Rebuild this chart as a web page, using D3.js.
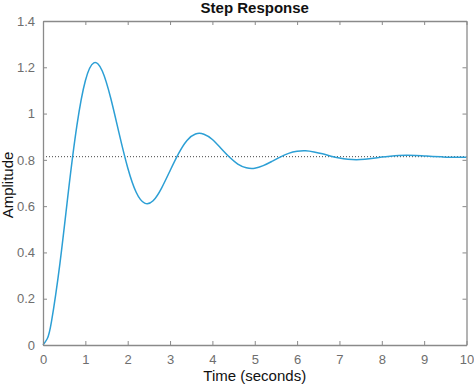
<!DOCTYPE html>
<html>
<head>
<meta charset="utf-8">
<script src="https://cdn.jsdelivr.net/npm/d3@7"></script>
<style>
  html, body { margin: 0; padding: 0; background: #fff; }
  svg { display: block; }
</style>
</head>
<body>
<svg id="chart" width="474" height="388"></svg>
<script>
// Data
const timeValues = [0, 0.1, 0.2, 0.4, 0.6, 0.8, 1.0, 1.2, 1.4, 1.6, 1.8, 2.0, 2.2, 2.4, 2.6, 2.8, 3.0,
  3.2, 3.4, 3.6, 3.8, 4.0, 4.2, 4.4, 4.6, 4.8, 5.0, 5.2, 5.4, 5.6, 5.8, 6.0, 6.2, 6.4, 6.6, 6.8,
  7.0, 7.2, 7.4, 7.6, 7.8, 8.0, 8.2, 8.4, 8.6, 8.8, 9.0, 9.2, 9.4, 9.6, 9.8, 10.0];
const amplitudeValues = [0, 0.027, 0.101, 0.353, 0.664, 0.948, 1.142, 1.219, 1.184, 1.066, 0.912,
  0.766, 0.660, 0.613, 0.623, 0.678, 0.753, 0.827, 0.884, 0.912, 0.911, 0.888, 0.850, 0.812,
  0.782, 0.766, 0.764, 0.775, 0.793, 0.812, 0.828, 0.837, 0.839, 0.834, 0.826, 0.816, 0.808,
  0.803, 0.801, 0.803, 0.807, 0.812, 0.816, 0.819, 0.820, 0.819, 0.817, 0.815, 0.813, 0.811,
  0.811, 0.811];
const steadyState = 0.8137;
const xTicks = [0, 1, 2, 3, 4, 5, 6, 7, 8, 9, 10];
const yTicks = [0, 0.2, 0.4, 0.6, 0.8, 1, 1.2, 1.4];
const titleText = "Step Response";
const xLabelText = "Time (seconds)";
const yLabelText = "Amplitude";

const W = 474, H = 388;
const margin = { left: 43, right: 7.5, top: 21, bottom: 43 };
const svg = d3.select("#chart");
const x = d3.scaleLinear().domain([0, 10]).range([margin.left, W - margin.right]);
const y = d3.scaleLinear().domain([0, 1.4]).range([H - margin.bottom, margin.top]);

const axisColor = "#8a8a8a";
const tickLabelColor = "#6e6e6e";
const font = "'Liberation Sans', Arial, Helvetica, sans-serif";
const tickLen = 4;

// Steady-state dotted line
svg.append("line")
  .attr("x1", x(0)).attr("x2", x(10))
  .attr("y1", y(steadyState)).attr("y2", y(steadyState))
  .attr("stroke", "#444").attr("stroke-width", 1)
  .attr("stroke-dasharray", "1,2");

// Response curve
const pts = timeValues.map((t, i) => [t, amplitudeValues[i]]);
svg.append("path")
  .datum(pts)
  .attr("fill", "none")
  .attr("stroke", "#2c9fd5")
  .attr("stroke-width", 1.5)
  .attr("d", d3.line().x(d => x(d[0])).y(d => y(d[1])).curve(d3.curveNatural));

// Axes (ticks inward)
const fmt = d => String(d);
const axBottom = svg.append("g").attr("transform", `translate(0,${y(0)})`)
  .call(d3.axisBottom(x).tickValues(xTicks).tickFormat(fmt).tickSizeInner(-tickLen).tickSizeOuter(0).tickPadding(10));
const axLeft = svg.append("g").attr("transform", `translate(${x(0)},0)`)
  .call(d3.axisLeft(y).tickValues(yTicks).tickFormat(fmt).tickSizeInner(-tickLen).tickSizeOuter(0).tickPadding(8));
const axTop = svg.append("g").attr("transform", `translate(0,${y(1.4)})`)
  .call(d3.axisTop(x).tickValues(xTicks).tickFormat("").tickSizeInner(-tickLen).tickSizeOuter(0));
const axRight = svg.append("g").attr("transform", `translate(${x(10)},0)`)
  .call(d3.axisRight(y).tickValues(yTicks).tickFormat("").tickSizeInner(-tickLen).tickSizeOuter(0));

[axBottom, axLeft, axTop, axRight].forEach(g => {
  g.selectAll("path.domain").attr("stroke", axisColor).attr("stroke-width", 1.3);
  g.selectAll(".tick line").attr("stroke", axisColor);
  g.selectAll(".tick text").attr("fill", tickLabelColor)
    .style("font-family", font).style("font-size", "13px");
});

// Title and labels
svg.append("text").attr("x", (x(0) + x(10)) / 2).attr("y", 13)
  .attr("text-anchor", "middle").style("font-family", font)
  .style("font-size", "15px").style("font-weight", "bold").attr("fill", "#111")
  .text(titleText);
svg.append("text").attr("x", (x(0) + x(10)) / 2).attr("y", 381)
  .attr("text-anchor", "middle").style("font-family", font)
  .style("font-size", "15px").attr("fill", "#111")
  .text(xLabelText);
svg.append("text")
  .attr("transform", `translate(12.5,${(y(0) + y(1.4)) / 2 + 2}) rotate(-90)`)
  .attr("text-anchor", "middle").style("font-family", font)
  .style("font-size", "15px").attr("fill", "#111")
  .text(yLabelText);
</script>
</body>
</html>
